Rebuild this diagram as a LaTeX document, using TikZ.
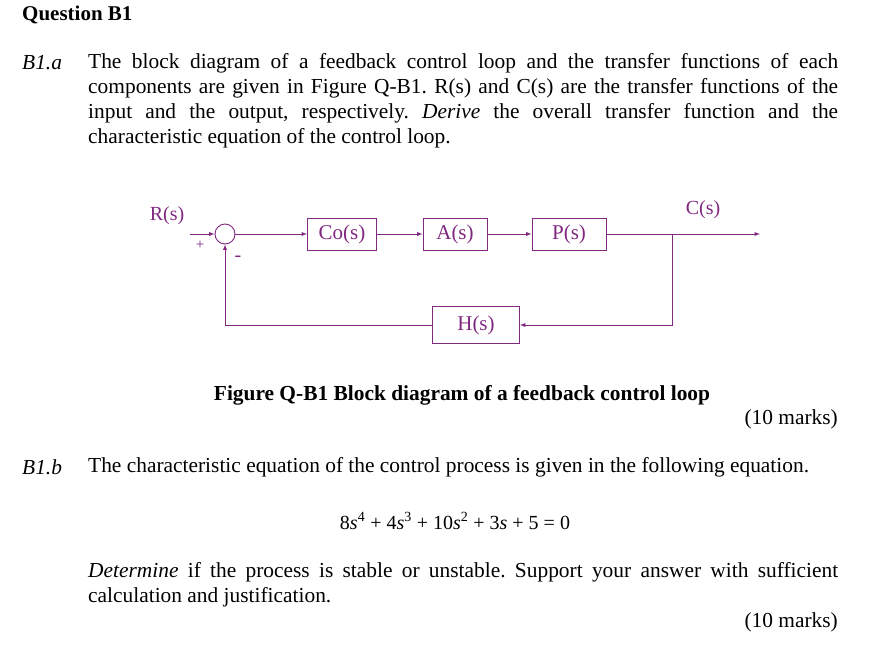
\documentclass[tikz,border=0pt]{standalone}
\usepackage{fontspec}
\setmainfont{Liberation Serif}
\frenchspacing
\begin{document}
\begin{tikzpicture}[x=1pt,y=-1pt,
  txt/.style={anchor=west,inner sep=0,font=\fontsize{21.4}{25}\selectfont},
  blk/.style={draw=dg,line width=0.9pt,minimum height=32pt,inner sep=0,text=dg,font=\fontsize{21}{25}\selectfont},
  lab/.style={text=dg,inner sep=0,font=\fontsize{20}{24}\selectfont},
  arr/.style={dg,line width=0.9pt,-latex}]
\definecolor{dg}{RGB}{128,40,128}
\useasboundingbox (0,0) rectangle (876,662);
\node[txt,font=\fontsize{21}{25}\selectfont\bfseries] (q) at (22,15) {Question B1};
\node[txt,font=\fontsize{21.4}{25}\selectfont\itshape] (ba) at (22,63) {B1.a};
\node[txt] (l1) at (88,63) {\makebox[750pt][s]{The block diagram of a feedback control loop and the transfer functions of each}};
\node[txt] (l2) at (88,88) {\makebox[750pt][s]{components are given in Figure Q-B1. R(s) and C(s) are the transfer functions of the}};
\node[txt] (l3) at (88,113) {\makebox[750pt][s]{input and the output, respectively. \textit{Derive} the overall transfer function and the}};
\node[txt] (l4) at (88,138) {characteristic equation of the control loop.};
% diagram
\node[draw=dg,line width=0.9pt,circle,minimum size=20pt,inner sep=0] (s) at (225,234) {};
\coordinate (rin) at (190,234);
\node[lab] (R) at (167,216) {R(s)};
\node[lab,font=\fontsize{15}{18}\selectfont] (pl) at (200,245) {+};
\node[lab] (mi) at (238,259) {-};
\node[blk,minimum width=69pt] (co) at (342,234) {Co(s)};
\node[blk,minimum width=64pt] (a) at (455,234) {A(s)};
\node[blk,minimum width=74pt] (p) at (569,234) {P(s)};
\node[blk,minimum width=87pt,minimum height=37pt] (h) at (476,325) {H(s)};
\node[lab] (C) at (703,210) {C(s)};
\coordinate (br) at (672,234);
\coordinate (out) at (760,234);
\draw[arr] (rin) -- (s);
\draw[arr] (s) -- (co);
\draw[arr] (co) -- (a);
\draw[arr] (a) -- (p);
\draw[arr] (p) -- (out);
\draw[arr] (br) |- (h);
\draw[arr] (h) -| (s);
\node[font=\fontsize{21.4}{25}\selectfont\bfseries,inner sep=0] (cap) at (462,395) {Figure Q-B1 Block diagram of a feedback control loop};
\node[txt,anchor=east] (m1) at (838,419) {(10 marks)};
\node[txt,font=\fontsize{21.4}{25}\selectfont\itshape] (bb) at (22,467) {B1.b};
\node[txt] (l5) at (88,467) {The characteristic equation of the control process is given in the following equation.};
\node[inner sep=0,font=\fontsize{20}{24}\selectfont] (eq) at (455,521) {8\textit{s}\textsuperscript{4} + 4\textit{s}\textsuperscript{3} + 10\textit{s}\textsuperscript{2} + 3\textit{s} + 5 = 0};
\node[txt] (l6) at (88,572) {\makebox[750pt][s]{\textit{Determine} if the process is stable or unstable. Support your answer with sufficient}};
\node[txt] (l7) at (88,597) {calculation and justification.};
\node[txt,anchor=east] (m2) at (838,622) {(10 marks)};
\end{tikzpicture}
\end{document}
